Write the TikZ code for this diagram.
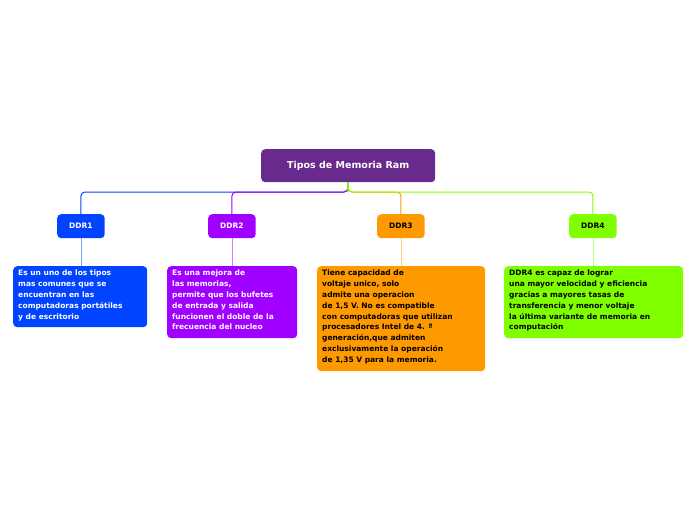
\documentclass[tikz,border=0pt]{standalone}
\usepackage{fontspec}
\setmainfont{DejaVu Sans}
\begin{document}
\begin{tikzpicture}[x=1pt,y=-1pt,
  box/.style={rounded corners=4pt,inner sep=0pt,anchor=north west},
  txt/.style={anchor=north west,align=left,inner sep=0pt,font=\fontsize{7.5}{10.8}\selectfont\bfseries},
  lab/.style={font=\fontsize{7.5}{9}\selectfont\bfseries},
  conn/.style={line width=1pt,rounded corners=4pt}]
\useasboundingbox (0,0) rectangle (696,520);
\definecolor{cRoot}{HTML}{682A8C}
\definecolor{cA}{HTML}{0044FF}
\definecolor{cB}{HTML}{A000FF}
\definecolor{cC}{HTML}{FF9900}
\definecolor{cD}{HTML}{80FF00}
\node[box,fill=cRoot,minimum width=174pt,minimum height=33pt] (root) at (261,149) {};
\node[text=white,font=\fontsize{9.5}{11}\selectfont\bfseries] at (root.center) {Tipos de Memoria Ram};
\foreach \n/\x/\c/\t in {a/57/cA/DDR1,b/208/cB/DDR2,c/377/cC/DDR3,d/569/cD/DDR4}{
  \node[box,fill=\c,minimum width=47.5pt,minimum height=24pt] (\n) at (\x,214) {};
}
\node[lab,text=white] at (a.center) {DDR1};
\node[lab,text=white] at (b.center) {DDR2};
\node[lab,text=black] at (c.center) {DDR3};
\node[lab,text=black] at (d.center) {DDR4};
\coordinate (j) at (348,192);
\draw[conn,cA] (root.south) -- (j) -| (a.north);
\draw[conn,cB] (root.south) -- (j) -| (b.north);
\draw[conn,cC] (root.south) -- (j) -| (c.north);
\draw[conn,cD] (root.south) -- (j) -| (d.north);
\draw[line width=1.5pt,cD] (root.south) -- (j);
\node[box,fill=cA,minimum width=134pt,minimum height=61pt] (la) at (13,266) {};
\node[box,fill=cB,minimum width=130pt,minimum height=72pt] (lb) at (167,266) {};
\node[box,fill=cC,minimum width=168pt,minimum height=105pt] (lc) at (317,266) {};
\node[box,fill=cD,minimum width=179pt,minimum height=72pt] (ld) at (504,266) {};
\draw[cA!50] (a.south) -- (la.north -| a.south);
\draw[cB!50] (b.south) -- (lb.north -| b.south);
\draw[cC!50] (c.south) -- (lc.north -| c.south);
\draw[cD!50] (d.south) -- (ld.north -| d.south);
\node[txt,text=white] (ta) at (18,270) {Es un uno de los tipos\\mas comunes que se\\encuentran en las\\computadoras portátiles\\y de escritorio};
\node[txt,text=white] (tb) at (172,270) {Es una mejora de\\las memorias,\\permite que los bufetes\\de entrada y salida\\funcionen el doble de la\\frecuencia del nucleo};
\node[txt,text=black] (tc) at (322,270) {Tiene capacidad de\\voltaje unico, solo\\admite una operacion\\de 1,5 V. No es compatible\\con computadoras que utilizan\\procesadores Intel de 4. ª\\generación,que admiten\\exclusivamente la operación\\de 1,35 V para la memoria.};
\node[txt,text=black] (td) at (509,270) {DDR4 es capaz de lograr\\una mayor velocidad y eficiencia\\gracias a mayores tasas de\\transferencia y menor voltaje\\la última variante de memoria en\\computación};
\end{tikzpicture}
\end{document}
